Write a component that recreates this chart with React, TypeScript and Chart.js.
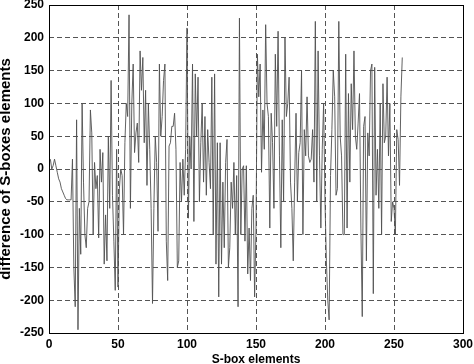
import React, { useEffect, useRef } from "react";
import { Chart, registerables } from "chart.js";

Chart.register(...registerables);

// Difference of S-box elements (index 1..256)
const diffValues: number[] = [
  15, 0, 5, 15, 5, -5, -15, -20, -30, -35, -40, -45, -47, -47, -47, -47,
  15, -150, -210, 75, -245, -60, -130, 100, -20, -100, -120, -60, -50, 90, 55, -100,
  10, -30, -10, -105, 30, -20, 25, -145, -70, -140, 50, -60, 135, -40, -110, -185,
  30, -180, -30, 0, -10, -100, 40, 100, 80, 235, -60, 100, 160, 25, 55, 70,
  10, 180, 120, 170, 40, 120, -25, 100, 30, -60, -205, -60, 50, 10, -95, 160,
  50, 80, 135, 160, -110, -170, 35, 40, 65, 65, 85, 30, -150, -140, 10, -50,
  15, -40, 30, 215, -75, 50, 0, 160, -80, 145, 50, 140, -50, 40, 100, -20,
  80, -40, 60, 10, -30, 140, -100, 145, -145, 40, -195, 40, -145, -20, -120, 10,
  45, -150, -120, -20, -60, 10, -100, -10, -210, 230, -100, 0, 5, -110, 5, -160,
  -90, -170, -60, -40, -195, -90, 175, 110, 160, -5, 90, 30, 220, 100, 80, -90,
  85, 40, -60, 175, 65, 210, 20, -120, 75, -50, 200, 80, 100, 140, -20, -60,
  -140, -20, 85, -50, 25, 40, 150, -100, 60, 20, 110, 20, 10, 15, 60, -20,
  225, -50, 180, 20, -90, 30, 100, -50, -140, -200, -230, -10, 60, 150, 110, -40,
  -30, 225, 50, 20, -100, -100, 175, -90, 115, -20, 130, 60, 180, 50, 30, 70,
  115, -90, -225, 65, 80, -140, 55, 20, 150, 160, -190, 155, -40, 30, -60, 100,
  -100, 130, 40, 50, 140, 20, 100, -80, -50, -60, -100, 60, 45, -25, 110, 170,
];

const xTicks: number[] = [0, 50, 100, 150, 200, 250, 300];
const yTicks: number[] = [-250, -200, -150, -100, -50, 0, 50, 100, 150, 200, 250];

const xTitle = "S-box elements";
const yTitle = "difference of S-boxes elements";

const FONT = "'Liberation Sans', Arial, Helvetica, sans-serif";

const frame = {
  id: "frame",
  afterDraw(chart: any) {
    const { ctx, chartArea } = chart;
    ctx.save();
    ctx.strokeStyle = "#000";
    ctx.lineWidth = 1;
    ctx.setLineDash([]);
    ctx.strokeRect(
      Math.round(chartArea.left) + 0.5,
      Math.round(chartArea.top) + 0.5,
      Math.round(chartArea.right - chartArea.left),
      Math.round(chartArea.bottom - chartArea.top)
    );
    ctx.restore();
  },
};

export default function App() {
  const ref = useRef<HTMLCanvasElement | null>(null);

  useEffect(() => {
    if (!ref.current) return;
    const points = diffValues.map((v, i) => ({ x: i + 1, y: v }));
    const chart = new Chart(ref.current, {
      type: "line",
      data: {
        datasets: [
          {
            data: points,
            borderColor: "#505050",
            borderWidth: 0.9,
            pointRadius: 0,
            tension: 0,
            fill: false,
          },
        ],
      },
      options: {
        animation: false,
        responsive: false,
        maintainAspectRatio: false,
        events: [],
        layout: { padding: { top: 5, right: 11, left: 0, bottom: 0 } },
        plugins: {
          legend: { display: false },
          tooltip: { enabled: false },
        },
        scales: {
          x: {
            type: "linear",
            min: 0,
            max: 300,
            afterBuildTicks: (s: any) => {
              s.ticks = xTicks.map((v) => ({ value: v }));
            },
            afterFit: (s: any) => {
              s.height = 31;
              s.paddingLeft = 0;
              s.paddingRight = 0;
            },
            ticks: {
              color: "#000",
              font: { family: FONT, size: 12, weight: "bold" },
              padding: 4,
              maxRotation: 0,
            },
            grid: {
              color: "#555",
              lineWidth: 1,
              drawTicks: false,
              tickLength: 0,
            },
            border: { display: false, dash: [5, 3] },
            title: {
              display: true,
              text: xTitle,
              color: "#000",
              font: { family: FONT, size: 12, weight: "bold" },
              padding: { top: 0, bottom: -3 },
            },
          },
          y: {
            type: "linear",
            min: -250,
            max: 250,
            afterBuildTicks: (s: any) => {
              s.ticks = yTicks.map((v) => ({ value: v }));
            },
            afterFit: (s: any) => {
              s.width = 49;
              s.paddingTop = 0;
              s.paddingBottom = 0;
            },
            ticks: {
              color: "#000",
              font: { family: FONT, size: 12, weight: "bold" },
              padding: 5,
            },
            grid: {
              color: "#555",
              lineWidth: 1,
              drawTicks: false,
              tickLength: 0,
            },
            border: { display: false, dash: [5, 3] },
            title: {
              display: true,
              text: yTitle,
              color: "#000",
              font: { family: FONT, size: 15, weight: "bold" },
              padding: { top: -3, bottom: 0 },
            },
          },
        },
      } as any,
      plugins: [frame],
    });
    return () => chart.destroy();
  }, []);

  return (
    <div
      style={{
        position: "fixed",
        left: 0,
        top: 0,
        width: 474,
        height: 364,
        background: "#fff",
      }}
    >
      <canvas ref={ref} width={474} height={364} style={{ width: 474, height: 364 }} />
    </div>
  );
}
